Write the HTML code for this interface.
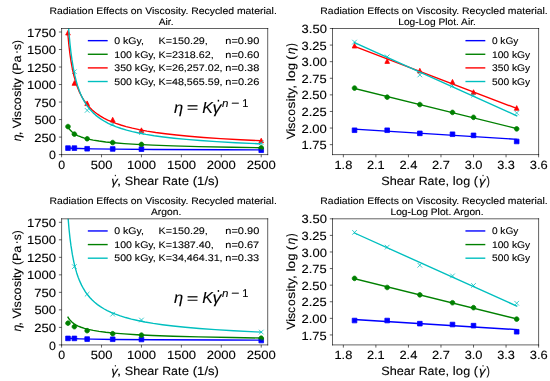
<!DOCTYPE html>
<html><head><meta charset="utf-8"><title>Radiation Effects on Viscosity</title>
<style>html,body{margin:0;padding:0;background:#fff;width:550px;height:381px;overflow:hidden}
svg{display:block;will-change:transform}
text{font-family:"Liberation Sans",sans-serif;fill:#000;stroke:#000;stroke-width:0.12px;text-rendering:geometricPrecision}</style>
</head><body>
<svg style="font-family: 'Liberation Sans', sans-serif" width="550" height="381" viewBox="0 0 550 381" version="1.1">
<defs>
<style type="text/css">*{stroke-linejoin: round; stroke-linecap: butt}</style>
</defs>
<g id="figure_1">
<g id="patch_1">
<path d="M 0 381 L 550 381 L 550 0 L 0 0 z
" style="fill: #ffffff"/>
</g>
<g id="axes_1">
<g id="patch_2">
<path d="M 61.6 154.6 L 267.7 154.6 L 267.7 28.5 L 61.6 28.5 z
" style="fill: #ffffff"/>
</g>
<g id="matplotlib.axis_1">
<g id="xtick_1">
<g id="line2d_1">
<defs>
<path id="maab8fc0e9d" d="M 0 0 L 0 2.70655 " style="stroke: #000000; stroke-width: 0.61864"/>
</defs>
<g>
<use href="#maab8fc0e9d" x="61.6" y="154.6" style="stroke: #000000; stroke-width: 0.61864"/>
</g>
</g>
<g id="text_1">
<text x="58.171" y="168.827" font-size="11.947" textLength="6.859" lengthAdjust="spacingAndGlyphs">0</text>
</g>
</g>
<g id="xtick_2">
<g id="line2d_2">
<g>
<use href="#maab8fc0e9d" x="101.526385" y="154.6" style="stroke: #000000; stroke-width: 0.61864"/>
</g>
</g>
<g id="text_2">
<text x="90.808" y="168.827" font-size="11.947" textLength="21.613" lengthAdjust="spacingAndGlyphs">500</text>
</g>
</g>
<g id="xtick_3">
<g id="line2d_3">
<g>
<use href="#maab8fc0e9d" x="141.45277" y="154.6" style="stroke: #000000; stroke-width: 0.61864"/>
</g>
</g>
<g id="text_3">
<text x="126.991" y="168.827" font-size="11.947" textLength="28.985" lengthAdjust="spacingAndGlyphs">1000</text>
</g>
</g>
<g id="xtick_4">
<g id="line2d_4">
<g>
<use href="#maab8fc0e9d" x="181.379155" y="154.6" style="stroke: #000000; stroke-width: 0.61864"/>
</g>
</g>
<g id="text_4">
<text x="166.918" y="168.827" font-size="11.947" textLength="28.985" lengthAdjust="spacingAndGlyphs">1500</text>
</g>
</g>
<g id="xtick_5">
<g id="line2d_5">
<g>
<use href="#maab8fc0e9d" x="221.30554" y="154.6" style="stroke: #000000; stroke-width: 0.61864"/>
</g>
</g>
<g id="text_5">
<text x="206.762" y="168.827" font-size="11.947" textLength="29.069" lengthAdjust="spacingAndGlyphs">2000</text>
</g>
</g>
<g id="xtick_6">
<g id="line2d_6">
<g>
<use href="#maab8fc0e9d" x="261.231926" y="154.6" style="stroke: #000000; stroke-width: 0.61864"/>
</g>
</g>
<g id="text_6">
<text x="246.688" y="168.827" font-size="11.947" textLength="29.069" lengthAdjust="spacingAndGlyphs">2500</text>
</g>
</g>
<g id="text_7">
<g transform="translate(110.306 185.14)"><text x="0.941" y="-0.581" font-size="11.947" font-style="italic" textLength="6.628" lengthAdjust="spacingAndGlyphs">γ</text><text x="6.346" y="-0.581" font-size="11.947" textLength="4.511" lengthAdjust="spacingAndGlyphs">,</text><rect x="4.525" y="-10.288" width="1.042" height="1.32"/><text x="10.931" y="-0.581" font-size="11.947" textLength="37.26" lengthAdjust="spacingAndGlyphs"> Shear</text><text x="48.512" y="-0.581" font-size="11.947" textLength="22.58" lengthAdjust="spacingAndGlyphs"> Rat</text><text x="71.577" y="-0.581" font-size="11.947" textLength="37.036" lengthAdjust="spacingAndGlyphs">e (1/s)</text>
</g>
</g>
</g>
<g id="matplotlib.axis_2">
<g id="ytick_1">
<g id="line2d_7">
<defs>
<path id="m0535aeec29" d="M 0 0 L -2.70655 0 " style="stroke: #000000; stroke-width: 0.61864"/>
</defs>
<g>
<use href="#m0535aeec29" x="61.6" y="154.6" style="stroke: #000000; stroke-width: 0.61864"/>
</g>
</g>
<g id="text_8">
<text x="49.067" y="159.207" font-size="11.947" textLength="6.859" lengthAdjust="spacingAndGlyphs">0</text>
</g>
</g>
<g id="ytick_2">
<g id="line2d_8">
<g>
<use href="#m0535aeec29" x="61.6" y="137.086111" style="stroke: #000000; stroke-width: 0.61864"/>
</g>
</g>
<g id="text_9">
<text x="34.265" y="141.693" font-size="11.947" textLength="21.75" lengthAdjust="spacingAndGlyphs">250</text>
</g>
</g>
<g id="ytick_3">
<g id="line2d_9">
<g>
<use href="#m0535aeec29" x="61.6" y="119.572222" style="stroke: #000000; stroke-width: 0.61864"/>
</g>
</g>
<g id="text_10">
<text x="34.398" y="124.179" font-size="11.947" textLength="21.613" lengthAdjust="spacingAndGlyphs">500</text>
</g>
</g>
<g id="ytick_4">
<g id="line2d_10">
<g>
<use href="#m0535aeec29" x="61.6" y="102.058333" style="stroke: #000000; stroke-width: 0.61864"/>
</g>
</g>
<g id="text_11">
<text x="34.324" y="106.665" font-size="11.947" textLength="21.689" lengthAdjust="spacingAndGlyphs">750</text>
</g>
</g>
<g id="ytick_5">
<g id="line2d_11">
<g>
<use href="#m0535aeec29" x="61.6" y="84.544444" style="stroke: #000000; stroke-width: 0.61864"/>
</g>
</g>
<g id="text_12">
<text x="26.965" y="89.151" font-size="11.947" textLength="28.985" lengthAdjust="spacingAndGlyphs">1000</text>
</g>
</g>
<g id="ytick_6">
<g id="line2d_12">
<g>
<use href="#m0535aeec29" x="61.6" y="67.030556" style="stroke: #000000; stroke-width: 0.61864"/>
</g>
</g>
<g id="text_13">
<text x="26.965" y="71.637" font-size="11.947" textLength="28.985" lengthAdjust="spacingAndGlyphs">1250</text>
</g>
</g>
<g id="ytick_7">
<g id="line2d_13">
<g>
<use href="#m0535aeec29" x="61.6" y="49.516667" style="stroke: #000000; stroke-width: 0.61864"/>
</g>
</g>
<g id="text_14">
<text x="26.965" y="54.124" font-size="11.947" textLength="28.985" lengthAdjust="spacingAndGlyphs">1500</text>
</g>
</g>
<g id="ytick_8">
<g id="line2d_14">
<g>
<use href="#m0535aeec29" x="61.6" y="32.002778" style="stroke: #000000; stroke-width: 0.61864"/>
</g>
</g>
<g id="text_15">
<text x="26.965" y="36.61" font-size="11.947" textLength="28.985" lengthAdjust="spacingAndGlyphs">1750</text>
</g>
</g>
<g id="text_16">
<g transform="translate(21.537 142.478) rotate(-90)"><text x="1.252" y="-0.875" font-size="11.947" font-style="italic" textLength="6.895" lengthAdjust="spacingAndGlyphs">η</text><text x="7.156" y="-0.875" font-size="11.947" textLength="24.399" lengthAdjust="spacingAndGlyphs">, Vis</text><text x="32.07" y="-0.875" font-size="11.947" textLength="13.261" lengthAdjust="spacingAndGlyphs">co</text><text x="45.769" y="-0.875" font-size="11.947" textLength="41.131" lengthAdjust="spacingAndGlyphs">sity (Pa</text><rect x="89.83" y="-5.221" width="1.195" height="1.439"/><text x="92.561" y="-0.875" font-size="11.947" textLength="10.055" lengthAdjust="spacingAndGlyphs">s)</text>
</g>
</g>
</g>
<g id="line2d_15">
<defs>
<path id="m254cbf3be5" d="M -2.3199 2.3199 L 2.3199 2.3199 L 2.3199 -2.3199 L -2.3199 -2.3199 z
" style="stroke: #0000ff; stroke-width: 0.7733; stroke-linejoin: miter"/>
</defs>
<g clip-path="url(#p5743c4f29c)">
<use href="#m254cbf3be5" x="67.988222" y="148.10585" style="fill: #0000ff; stroke: #0000ff; stroke-width: 0.7733; stroke-linejoin: miter"/>
<use href="#m254cbf3be5" x="74.376443" y="148.10585" style="fill: #0000ff; stroke: #0000ff; stroke-width: 0.7733; stroke-linejoin: miter"/>
<use href="#m254cbf3be5" x="87.152886" y="148.771378" style="fill: #0000ff; stroke: #0000ff; stroke-width: 0.7733; stroke-linejoin: miter"/>
<use href="#m254cbf3be5" x="112.705773" y="148.946517" style="fill: #0000ff; stroke: #0000ff; stroke-width: 0.7733; stroke-linejoin: miter"/>
<use href="#m254cbf3be5" x="141.45277" y="149.163689" style="fill: #0000ff; stroke: #0000ff; stroke-width: 0.7733; stroke-linejoin: miter"/>
<use href="#m254cbf3be5" x="261.231926" y="150.200511" style="fill: #0000ff; stroke: #0000ff; stroke-width: 0.7733; stroke-linejoin: miter"/>
</g>
</g>
<g id="line2d_16">
<defs>
<path id="m1ce8daf541" d="M 0 2.3199 C 0.615245 2.3199 1.205373 2.075461 1.640417 1.640417 C 2.075461 1.205373 2.3199 0.615245 2.3199 0 C 2.3199 -0.615245 2.075461 -1.205373 1.640417 -1.640417 C 1.205373 -2.075461 0.615245 -2.3199 0 -2.3199 C -0.615245 -2.3199 -1.205373 -2.075461 -1.640417 -1.640417 C -2.075461 -1.205373 -2.3199 -0.615245 -2.3199 0 C -2.3199 0.615245 -2.075461 1.205373 -1.640417 1.640417 C -1.205373 2.075461 -0.615245 2.3199 0 2.3199 z
" style="stroke: #008000; stroke-width: 0.7733"/>
</defs>
<g clip-path="url(#p5743c4f29c)">
<use href="#m1ce8daf541" x="67.988222" y="126.577778" style="fill: #008000; stroke: #008000; stroke-width: 0.7733"/>
<use href="#m1ce8daf541" x="74.376443" y="134.143778" style="fill: #008000; stroke: #008000; stroke-width: 0.7733"/>
<use href="#m1ce8daf541" x="87.152886" y="138.767444" style="fill: #008000; stroke: #008000; stroke-width: 0.7733"/>
<use href="#m1ce8daf541" x="112.705773" y="142.550444" style="fill: #008000; stroke: #008000; stroke-width: 0.7733"/>
<use href="#m1ce8daf541" x="141.45277" y="144.441944" style="fill: #008000; stroke: #008000; stroke-width: 0.7733"/>
<use href="#m1ce8daf541" x="261.231926" y="147.783594" style="fill: #008000; stroke: #008000; stroke-width: 0.7733"/>
</g>
</g>
<g id="line2d_17">
<defs>
<path id="m23a7e8cab1" d="M 0 -2.3199 L -2.3199 2.3199 L 2.3199 2.3199 z
" style="stroke: #ff0000; stroke-width: 0.7733; stroke-linejoin: miter"/>
</defs>
<g clip-path="url(#p5743c4f29c)">
<use href="#m23a7e8cab1" x="67.988222" y="32.703333" style="fill: #ff0000; stroke: #ff0000; stroke-width: 0.7733; stroke-linejoin: miter"/>
<use href="#m23a7e8cab1" x="74.376443" y="83.003222" style="fill: #ff0000; stroke: #ff0000; stroke-width: 0.7733; stroke-linejoin: miter"/>
<use href="#m23a7e8cab1" x="87.152886" y="103.249278" style="fill: #ff0000; stroke: #ff0000; stroke-width: 0.7733; stroke-linejoin: miter"/>
<use href="#m23a7e8cab1" x="112.705773" y="119.642278" style="fill: #ff0000; stroke: #ff0000; stroke-width: 0.7733; stroke-linejoin: miter"/>
<use href="#m23a7e8cab1" x="141.45277" y="130.150611" style="fill: #ff0000; stroke: #ff0000; stroke-width: 0.7733; stroke-linejoin: miter"/>
<use href="#m23a7e8cab1" x="261.231926" y="140.518833" style="fill: #ff0000; stroke: #ff0000; stroke-width: 0.7733; stroke-linejoin: miter"/>
</g>
</g>
<g id="line2d_18">
<defs>
<path id="m0160b652dd" d="M -2.3199 2.3199 L 2.3199 -2.3199 M -2.3199 -2.3199 L 2.3199 2.3199 " style="stroke: #00bfbf; stroke-width: 0.7733"/>
</defs>
<g clip-path="url(#p5743c4f29c)">
<use href="#m0160b652dd" x="67.988222" y="16.450444" style="fill: #00bfbf; stroke: #00bfbf; stroke-width: 0.7733"/>
<use href="#m0160b652dd" x="74.376443" y="71.724278" style="fill: #00bfbf; stroke: #00bfbf; stroke-width: 0.7733"/>
<use href="#m0160b652dd" x="87.152886" y="110.394944" style="fill: #00bfbf; stroke: #00bfbf; stroke-width: 0.7733"/>
<use href="#m0160b652dd" x="112.705773" y="124.055778" style="fill: #00bfbf; stroke: #00bfbf; stroke-width: 0.7733"/>
<use href="#m0160b652dd" x="141.45277" y="132.672611" style="fill: #00bfbf; stroke: #00bfbf; stroke-width: 0.7733"/>
<use href="#m0160b652dd" x="261.231926" y="142.760611" style="fill: #00bfbf; stroke: #00bfbf; stroke-width: 0.7733"/>
</g>
</g>
<g id="line2d_19">
<path d="M 67.988222 147.866242 L 72.347102 148.214212 L 79.611903 148.541862 L 92.204225 148.860731 L 114.482947 149.172147 L 153.712872 149.470848 L 224.423601 149.760382 L 261.231926 149.859952 L 261.231926 149.859952 " clip-path="url(#p5743c4f29c)" style="fill: none; stroke: #0000ff; stroke-width: 1.39194; stroke-linecap: square"/>
</g>
<g id="line2d_20">
<path d="M 67.988222 126.941807 L 68.956862 128.475168 L 70.409822 130.309828 L 71.862782 131.762624 L 73.800062 133.303558 L 75.737343 134.534558 L 78.158943 135.776164 L 81.064863 136.96645 L 84.455104 138.073987 L 88.329664 139.087138 L 93.172865 140.096445 L 98.984705 141.053442 L 105.765186 141.93559 L 113.998627 142.780691 L 124.169349 143.598112 L 136.76167 144.383674 L 152.744232 145.14924 L 173.085675 145.887941 L 198.754638 146.58757 L 232.172722 147.263214 L 261.231926 147.714993 L 261.231926 147.714993 " clip-path="url(#p5743c4f29c)" style="fill: none; stroke: #008000; stroke-width: 1.39194; stroke-linecap: square"/>
</g>
<g id="line2d_21">
<path d="M 67.988222 35.679487 L 68.956862 45.72294 L 69.925502 53.822694 L 70.894142 60.52192 L 72.347102 68.686354 L 73.800062 75.232449 L 75.253023 80.622227 L 76.705983 85.153375 L 78.158943 89.027177 L 79.611903 92.385086 L 81.549183 96.233177 L 83.486464 99.518024 L 85.423744 102.361824 L 87.361024 104.852953 L 89.782624 107.569363 L 92.204225 109.931034 L 94.625825 112.007247 L 97.531745 114.194051 L 100.437666 116.11105 L 103.827906 118.072534 L 107.702467 120.022654 L 111.577027 121.723336 L 115.935908 123.397461 L 120.779108 125.018922 L 126.106629 126.570423 L 132.40279 128.155353 L 139.18327 129.624499 L 146.932391 131.067229 L 155.650153 132.455312 L 165.336554 133.771314 L 176.475915 135.057679 L 189.068237 136.287695 L 203.597838 137.482388 L 220.549041 138.647342 L 240.406163 139.778908 L 261.231926 140.765116 L 261.231926 140.765116 " clip-path="url(#p5743c4f29c)" style="fill: none; stroke: #ff0000; stroke-width: 1.39194; stroke-linecap: square"/>
</g>
<g id="line2d_22">
<path d="M 67.988222 19.362535 L 68.956862 32.709199 L 69.925502 43.315518 L 70.894142 51.974654 L 71.862782 59.196225 L 73.315742 68.054976 L 74.768702 75.190393 L 76.221663 81.077703 L 77.674623 86.029541 L 79.127583 90.260562 L 80.580543 93.92336 L 82.517823 98.111955 L 84.455104 101.676928 L 86.392384 104.753069 L 88.329664 107.438299 L 90.751264 110.354528 L 93.172865 112.878339 L 95.594465 115.086979 L 98.500385 117.401799 L 101.406306 119.420302 L 104.796546 121.474213 L 108.186787 123.266039 L 112.061347 125.055341 L 116.420228 126.803109 L 121.263428 128.482269 L 126.590949 130.075681 L 132.40279 131.573941 L 138.69895 132.973362 L 145.963751 134.360212 L 154.197192 135.700919 L 163.399273 136.973885 L 174.054315 138.219081 L 186.162316 139.406701 L 200.207598 140.555657 L 216.67448 141.669391 L 235.562962 142.718248 L 257.841685 143.726676 L 261.231926 143.86289 L 261.231926 143.86289 " clip-path="url(#p5743c4f29c)" style="fill: none; stroke: #00bfbf; stroke-width: 1.39194; stroke-linecap: square"/>
</g>
<g id="patch_3">
<path d="M 61.6 154.6 L 61.6 28.5 " style="fill: none; stroke: #000000; stroke-width: 0.61864; stroke-linejoin: miter; stroke-linecap: square"/>
</g>
<g id="patch_4">
<path d="M 267.7 154.6 L 267.7 28.5 " style="fill: none; stroke: #000000; stroke-width: 0.61864; stroke-linejoin: miter; stroke-linecap: square"/>
</g>
<g id="patch_5">
<path d="M 61.6 154.6 L 267.7 154.6 " style="fill: none; stroke: #000000; stroke-width: 0.61864; stroke-linejoin: miter; stroke-linecap: square"/>
</g>
<g id="patch_6">
<path d="M 61.6 28.5 L 267.7 28.5 " style="fill: none; stroke: #000000; stroke-width: 0.61864; stroke-linejoin: miter; stroke-linecap: square"/>
</g>
<g id="text_17">
<g transform="translate(173.394 113.467)"><text x="0.602" y="-0.602" font-size="15.93" font-style="italic" textLength="9.193" lengthAdjust="spacingAndGlyphs">η</text><text x="13.471" y="-0.602" font-size="15.93" transform="matrix(1 0 0 0.85 0 -0.473)" textLength="11.639" lengthAdjust="spacingAndGlyphs">=</text><text x="28.756" y="-0.602" font-size="15.93" font-style="italic" textLength="10.701" lengthAdjust="spacingAndGlyphs">K</text><text x="39.203" y="-0.602" font-size="15.93" font-style="italic" textLength="8.838" lengthAdjust="spacingAndGlyphs">γ</text><text x="48.536" y="-6.344" font-size="11.151" font-style="italic" textLength="6.447" lengthAdjust="spacingAndGlyphs">n</text><rect x="44.325" y="-13.682" width="1.39" height="1.76"/><text x="57.761" y="-6.344" font-size="11.151" textLength="8.147" lengthAdjust="spacingAndGlyphs">−</text><text x="68.896" y="-6.344" font-size="11.151" textLength="6.091" lengthAdjust="spacingAndGlyphs">1</text>
</g>
</g>
<g id="text_18">
<text x="49.451" y="14.169" font-size="9.558" textLength="227.395" lengthAdjust="spacingAndGlyphs">Radiation Effects on Viscosity. Recycled material.</text>
<text x="158.746" y="24.56" font-size="9.558" textLength="14.754" lengthAdjust="spacingAndGlyphs">Air.</text>
</g>
<g id="legend_1">
<g id="line2d_23">
<path d="M 88.517 40.654826 L 97.755 40.654826 L 106.993 40.654826 " style="fill: none; stroke: #0000ff; stroke-width: 1.39194; stroke-linecap: square"/>
</g>
<g id="text_19">
<text x="114.265" y="43.903" font-size="9.558" textLength="29.671" lengthAdjust="spacingAndGlyphs">0 kGy,</text><text x="158.562" y="43.903" font-size="9.558" textLength="49.264" lengthAdjust="spacingAndGlyphs">K=150.29,</text><text x="225.291" y="43.903" font-size="9.558" textLength="34.024" lengthAdjust="spacingAndGlyphs">n=0.90</text>
</g>
<g id="line2d_24">
<path d="M 88.517 54.275539 L 97.755 54.275539 L 106.993 54.275539 " style="fill: none; stroke: #008000; stroke-width: 1.39194; stroke-linecap: square"/>
</g>
<g id="text_20">
<text x="114.312" y="57.523" font-size="9.558" textLength="41.482" lengthAdjust="spacingAndGlyphs">100 kGy,</text><text x="158.571" y="57.523" font-size="9.558" textLength="55.167" lengthAdjust="spacingAndGlyphs">K=2318.62,</text><text x="225.304" y="57.523" font-size="9.558" textLength="34.024" lengthAdjust="spacingAndGlyphs">n=0.60</text>
</g>
<g id="line2d_25">
<path d="M 88.517 67.896252 L 97.755 67.896252 L 106.993 67.896252 " style="fill: none; stroke: #ff0000; stroke-width: 1.39194; stroke-linecap: square"/>
</g>
<g id="text_21">
<text x="114.357" y="71.144" font-size="9.558" textLength="41.435" lengthAdjust="spacingAndGlyphs">350 kGy,</text><text x="158.573" y="71.144" font-size="9.558" textLength="64.015" lengthAdjust="spacingAndGlyphs">K=26,257.02,</text><text x="225.308" y="71.144" font-size="9.558" textLength="34.024" lengthAdjust="spacingAndGlyphs">n=0.38</text>
</g>
<g id="line2d_26">
<path d="M 88.517 81.516965 L 97.755 81.516965 L 106.993 81.516965 " style="fill: none; stroke: #00bfbf; stroke-width: 1.39194; stroke-linecap: square"/>
</g>
<g id="text_22">
<text x="114.357" y="84.765" font-size="9.558" textLength="41.435" lengthAdjust="spacingAndGlyphs">500 kGy,</text><text x="158.573" y="84.765" font-size="9.558" textLength="64.015" lengthAdjust="spacingAndGlyphs">K=48,565.59,</text><text x="225.306" y="84.765" font-size="9.558" textLength="34.129" lengthAdjust="spacingAndGlyphs">n=0.26</text>
</g>
</g>
</g>
<g id="axes_2">
<g id="patch_7">
<path d="M 332.5 154.6 L 538.6 154.6 L 538.6 28.5 L 332.5 28.5 z
" style="fill: #ffffff"/>
</g>
<g id="matplotlib.axis_3">
<g id="xtick_7">
<g id="line2d_27">
<g>
<use href="#maab8fc0e9d" x="343.347368" y="154.6" style="stroke: #000000; stroke-width: 0.61864"/>
</g>
</g>
<g id="text_23">
<text x="334.434" y="168.827" font-size="11.947" textLength="17.896" lengthAdjust="spacingAndGlyphs">1.8</text>
</g>
</g>
<g id="xtick_8">
<g id="line2d_28">
<g>
<use href="#maab8fc0e9d" x="375.889474" y="154.6" style="stroke: #000000; stroke-width: 0.61864"/>
</g>
</g>
<g id="text_24">
<text x="366.895" y="168.827" font-size="11.947" textLength="17.813" lengthAdjust="spacingAndGlyphs">2.1</text>
</g>
</g>
<g id="xtick_9">
<g id="line2d_29">
<g>
<use href="#maab8fc0e9d" x="408.431579" y="154.6" style="stroke: #000000; stroke-width: 0.61864"/>
</g>
</g>
<g id="text_25">
<text x="399.431" y="168.827" font-size="11.947" textLength="17.972" lengthAdjust="spacingAndGlyphs">2.4</text>
</g>
</g>
<g id="xtick_10">
<g id="line2d_30">
<g>
<use href="#maab8fc0e9d" x="440.973684" y="154.6" style="stroke: #000000; stroke-width: 0.61864"/>
</g>
</g>
<g id="text_26">
<text x="431.977" y="168.827" font-size="11.947" textLength="17.875" lengthAdjust="spacingAndGlyphs">2.7</text>
</g>
</g>
<g id="xtick_11">
<g id="line2d_31">
<g>
<use href="#maab8fc0e9d" x="473.515789" y="154.6" style="stroke: #000000; stroke-width: 0.61864"/>
</g>
</g>
<g id="text_27">
<text x="464.648" y="168.827" font-size="11.947" textLength="17.848" lengthAdjust="spacingAndGlyphs">3.0</text>
</g>
</g>
<g id="xtick_12">
<g id="line2d_32">
<g>
<use href="#maab8fc0e9d" x="506.057895" y="154.6" style="stroke: #000000; stroke-width: 0.61864"/>
</g>
</g>
<g id="text_28">
<text x="497.194" y="168.827" font-size="11.947" textLength="17.731" lengthAdjust="spacingAndGlyphs">3.3</text>
</g>
</g>
<g id="xtick_13">
<g id="line2d_33">
<g>
<use href="#maab8fc0e9d" x="538.6" y="154.6" style="stroke: #000000; stroke-width: 0.61864"/>
</g>
</g>
<g id="text_29">
<text x="529.729" y="168.827" font-size="11.947" textLength="17.979" lengthAdjust="spacingAndGlyphs">3.6</text>
</g>
</g>
<g id="text_30">
<g transform="translate(381.032 185.14)"><text x="0.185" y="-0.581" font-size="11.947" textLength="33.747" lengthAdjust="spacingAndGlyphs">Shear</text><text x="34.242" y="-0.581" font-size="11.947" textLength="22.58" lengthAdjust="spacingAndGlyphs"> Rat</text><text x="57.307" y="-0.581" font-size="11.947" textLength="24.658" lengthAdjust="spacingAndGlyphs">e, lo</text><text x="82.278" y="-0.581" font-size="11.947" textLength="14.625" lengthAdjust="spacingAndGlyphs">g (</text><text x="97.892" y="-0.581" font-size="11.947" font-style="italic" textLength="6.628" lengthAdjust="spacingAndGlyphs">γ</text><text x="105.458" y="-0.581" font-size="11.947" textLength="3.343" lengthAdjust="spacingAndGlyphs">)</text><rect x="101.476" y="-10.288" width="1.042" height="1.32"/>
</g>
</g>
</g>
<g id="matplotlib.axis_4">
<g id="ytick_9">
<g id="line2d_34">
<g>
<use href="#m0535aeec29" x="332.5" y="144.644737" style="stroke: #000000; stroke-width: 0.61864"/>
</g>
</g>
<g id="text_31">
<text x="301.57" y="149.252" font-size="11.947" textLength="25.044" lengthAdjust="spacingAndGlyphs">1.75</text>
</g>
</g>
<g id="ytick_10">
<g id="line2d_35">
<g>
<use href="#m0535aeec29" x="332.5" y="128.052632" style="stroke: #000000; stroke-width: 0.61864"/>
</g>
</g>
<g id="text_32">
<text x="301.477" y="132.66" font-size="11.947" textLength="25.376" lengthAdjust="spacingAndGlyphs">2.00</text>
</g>
</g>
<g id="ytick_11">
<g id="line2d_36">
<g>
<use href="#m0535aeec29" x="332.5" y="111.460526" style="stroke: #000000; stroke-width: 0.61864"/>
</g>
</g>
<g id="text_33">
<text x="301.483" y="116.067" font-size="11.947" textLength="25.132" lengthAdjust="spacingAndGlyphs">2.25</text>
</g>
</g>
<g id="ytick_12">
<g id="line2d_37">
<g>
<use href="#m0535aeec29" x="332.5" y="94.868421" style="stroke: #000000; stroke-width: 0.61864"/>
</g>
</g>
<g id="text_34">
<text x="301.477" y="99.475" font-size="11.947" textLength="25.376" lengthAdjust="spacingAndGlyphs">2.50</text>
</g>
</g>
<g id="ytick_13">
<g id="line2d_38">
<g>
<use href="#m0535aeec29" x="332.5" y="78.276316" style="stroke: #000000; stroke-width: 0.61864"/>
</g>
</g>
<g id="text_35">
<text x="301.483" y="82.883" font-size="11.947" textLength="25.132" lengthAdjust="spacingAndGlyphs">2.75</text>
</g>
</g>
<g id="ytick_14">
<g id="line2d_39">
<g>
<use href="#m0535aeec29" x="332.5" y="61.684211" style="stroke: #000000; stroke-width: 0.61864"/>
</g>
</g>
<g id="text_36">
<text x="301.61" y="66.291" font-size="11.947" textLength="25.24" lengthAdjust="spacingAndGlyphs">3.00</text>
</g>
</g>
<g id="ytick_15">
<g id="line2d_40">
<g>
<use href="#m0535aeec29" x="332.5" y="45.092105" style="stroke: #000000; stroke-width: 0.61864"/>
</g>
</g>
<g id="text_37">
<text x="301.615" y="49.699" font-size="11.947" textLength="24.997" lengthAdjust="spacingAndGlyphs">3.25</text>
</g>
</g>
<g id="ytick_16">
<g id="line2d_41">
<g>
<use href="#m0535aeec29" x="332.5" y="28.5" style="stroke: #000000; stroke-width: 0.61864"/>
</g>
</g>
<g id="text_38">
<text x="301.61" y="33.107" font-size="11.947" textLength="25.24" lengthAdjust="spacingAndGlyphs">3.50</text>
</g>
</g>
<g id="text_39">
<g transform="translate(296.131 139.404) rotate(-90)"><text x="0.055" y="-0.875" font-size="11.947" textLength="22.884" lengthAdjust="spacingAndGlyphs">Visc</text><text x="23.78" y="-0.875" font-size="11.947" textLength="6.791" lengthAdjust="spacingAndGlyphs">o</text><text x="30.967" y="-0.875" font-size="11.947" textLength="38.022" lengthAdjust="spacingAndGlyphs">sity, lo</text><text x="69.336" y="-0.875" font-size="11.947" textLength="14.625" lengthAdjust="spacingAndGlyphs">g (</text><text x="85.261" y="-0.875" font-size="11.947" font-style="italic" textLength="6.895" lengthAdjust="spacingAndGlyphs">η</text><text x="93.005" y="-0.875" font-size="11.947" textLength="3.343" lengthAdjust="spacingAndGlyphs">)</text>
</g>
</g>
</g>
<g id="line2d_42">
<g clip-path="url(#pca7f2a2bee)">
<use href="#m254cbf3be5" x="354.529919" y="130.237498" style="fill: #0000ff; stroke: #0000ff; stroke-width: 0.7733; stroke-linejoin: miter"/>
<use href="#m254cbf3be5" x="387.183752" y="130.237498" style="fill: #0000ff; stroke: #0000ff; stroke-width: 0.7733; stroke-linejoin: miter"/>
<use href="#m254cbf3be5" x="419.837584" y="133.35392" style="fill: #0000ff; stroke: #0000ff; stroke-width: 0.7733; stroke-linejoin: miter"/>
<use href="#m254cbf3be5" x="452.491417" y="134.233288" style="fill: #0000ff; stroke: #0000ff; stroke-width: 0.7733; stroke-linejoin: miter"/>
<use href="#m254cbf3be5" x="473.515789" y="135.362335" style="fill: #0000ff; stroke: #0000ff; stroke-width: 0.7733; stroke-linejoin: miter"/>
<use href="#m254cbf3be5" x="516.681808" y="141.461731" style="fill: #0000ff; stroke: #0000ff; stroke-width: 0.7733; stroke-linejoin: miter"/>
</g>
</g>
<g id="line2d_43">
<g clip-path="url(#pca7f2a2bee)">
<use href="#m1ce8daf541" x="354.529919" y="88.094861" style="fill: #008000; stroke: #008000; stroke-width: 0.7733"/>
<use href="#m1ce8daf541" x="387.183752" y="97.165907" style="fill: #008000; stroke: #008000; stroke-width: 0.7733"/>
<use href="#m1ce8daf541" x="419.837584" y="104.551014" style="fill: #008000; stroke: #008000; stroke-width: 0.7733"/>
<use href="#m1ce8daf541" x="452.491417" y="112.42098" style="fill: #008000; stroke: #008000; stroke-width: 0.7733"/>
<use href="#m1ce8daf541" x="473.515789" y="117.342892" style="fill: #008000; stroke: #008000; stroke-width: 0.7733"/>
<use href="#m1ce8daf541" x="516.681808" y="128.841564" style="fill: #008000; stroke: #008000; stroke-width: 0.7733"/>
</g>
</g>
<g id="line2d_44">
<g clip-path="url(#pca7f2a2bee)">
<use href="#m23a7e8cab1" x="354.529919" y="45.719337" style="fill: #ff0000; stroke: #ff0000; stroke-width: 0.7733; stroke-linejoin: miter"/>
<use href="#m23a7e8cab1" x="387.183752" y="61.056969" style="fill: #ff0000; stroke: #ff0000; stroke-width: 0.7733; stroke-linejoin: miter"/>
<use href="#m23a7e8cab1" x="419.837584" y="70.637047" style="fill: #ff0000; stroke: #ff0000; stroke-width: 0.7733; stroke-linejoin: miter"/>
<use href="#m23a7e8cab1" x="452.491417" y="81.720801" style="fill: #ff0000; stroke: #ff0000; stroke-width: 0.7733; stroke-linejoin: miter"/>
<use href="#m23a7e8cab1" x="473.515789" y="92.026165" style="fill: #ff0000; stroke: #ff0000; stroke-width: 0.7733; stroke-linejoin: miter"/>
<use href="#m23a7e8cab1" x="516.681808" y="107.929988" style="fill: #ff0000; stroke: #ff0000; stroke-width: 0.7733; stroke-linejoin: miter"/>
</g>
</g>
<g id="line2d_45">
<g clip-path="url(#pca7f2a2bee)">
<use href="#m0160b652dd" x="354.529919" y="42.111705" style="fill: #00bfbf; stroke: #00bfbf; stroke-width: 0.7733"/>
<use href="#m0160b652dd" x="387.183752" y="56.840328" style="fill: #00bfbf; stroke: #00bfbf; stroke-width: 0.7733"/>
<use href="#m0160b652dd" x="419.837584" y="74.955946" style="fill: #00bfbf; stroke: #00bfbf; stroke-width: 0.7733"/>
<use href="#m0160b652dd" x="452.491417" y="85.610923" style="fill: #00bfbf; stroke: #00bfbf; stroke-width: 0.7733"/>
<use href="#m0160b652dd" x="473.515789" y="95.164136" style="fill: #00bfbf; stroke: #00bfbf; stroke-width: 0.7733"/>
<use href="#m0160b652dd" x="516.681808" y="112.928151" style="fill: #00bfbf; stroke: #00bfbf; stroke-width: 0.7733"/>
</g>
</g>
<g id="line2d_46">
<path d="M 354.529919 129.193179 L 516.681808 139.312684 " clip-path="url(#pca7f2a2bee)" style="fill: none; stroke: #0000ff; stroke-width: 1.39194; stroke-linecap: square"/>
</g>
<g id="line2d_47">
<path d="M 354.529919 88.471751 L 516.681808 128.552929 " clip-path="url(#pca7f2a2bee)" style="fill: none; stroke: #008000; stroke-width: 1.39194; stroke-linecap: square"/>
</g>
<g id="line2d_48">
<path d="M 354.529919 46.431805 L 516.681808 108.438578 " clip-path="url(#pca7f2a2bee)" style="fill: none; stroke: #ff0000; stroke-width: 1.39194; stroke-linecap: square"/>
</g>
<g id="line2d_49">
<path d="M 354.529919 42.725776 L 516.681808 115.744952 " clip-path="url(#pca7f2a2bee)" style="fill: none; stroke: #00bfbf; stroke-width: 1.39194; stroke-linecap: square"/>
</g>
<g id="patch_8">
<path d="M 332.5 154.6 L 332.5 28.5 " style="fill: none; stroke: #000000; stroke-width: 0.61864; stroke-linejoin: miter; stroke-linecap: square"/>
</g>
<g id="patch_9">
<path d="M 538.6 154.6 L 538.6 28.5 " style="fill: none; stroke: #000000; stroke-width: 0.61864; stroke-linejoin: miter; stroke-linecap: square"/>
</g>
<g id="patch_10">
<path d="M 332.5 154.6 L 538.6 154.6 " style="fill: none; stroke: #000000; stroke-width: 0.61864; stroke-linejoin: miter; stroke-linecap: square"/>
</g>
<g id="patch_11">
<path d="M 332.5 28.5 L 538.6 28.5 " style="fill: none; stroke: #000000; stroke-width: 0.61864; stroke-linejoin: miter; stroke-linecap: square"/>
</g>
<g id="text_40">
<text x="320.351" y="14.169" font-size="9.558" textLength="227.395" lengthAdjust="spacingAndGlyphs">Radiation Effects on Viscosity. Recycled material.</text>
<text x="398.298" y="24.56" font-size="9.558" textLength="77.513" lengthAdjust="spacingAndGlyphs">Log-Log Plot. Air.</text>
</g>
<g id="legend_2">
<g id="line2d_50">
<path d="M 466.139 40.654826 L 475.377 40.654826 L 484.615 40.654826 " style="fill: none; stroke: #0000ff; stroke-width: 1.39194; stroke-linecap: square"/>
</g>
<g id="text_41">
<text x="491.902" y="43.903" font-size="9.558" textLength="26.504" lengthAdjust="spacingAndGlyphs">0 kGy</text>
</g>
<g id="line2d_51">
<path d="M 466.139 54.275539 L 475.377 54.275539 L 484.615 54.275539 " style="fill: none; stroke: #008000; stroke-width: 1.39194; stroke-linecap: square"/>
</g>
<g id="text_42">
<text x="491.956" y="57.523" font-size="9.558" textLength="38.209" lengthAdjust="spacingAndGlyphs">100 kGy</text>
</g>
<g id="line2d_52">
<path d="M 466.139 67.896252 L 475.377 67.896252 L 484.615 67.896252 " style="fill: none; stroke: #ff0000; stroke-width: 1.39194; stroke-linecap: square"/>
</g>
<g id="text_43">
<text x="491.991" y="71.144" font-size="9.558" textLength="38.174" lengthAdjust="spacingAndGlyphs">350 kGy</text>
</g>
<g id="line2d_53">
<path d="M 466.139 81.516965 L 475.377 81.516965 L 484.615 81.516965 " style="fill: none; stroke: #00bfbf; stroke-width: 1.39194; stroke-linecap: square"/>
</g>
<g id="text_44">
<text x="491.991" y="84.765" font-size="9.558" textLength="38.174" lengthAdjust="spacingAndGlyphs">500 kGy</text>
</g>
</g>
</g>
<g id="axes_3">
<g id="patch_12">
<path d="M 61.6 344.9 L 267.7 344.9 L 267.7 218.8 L 61.6 218.8 z
" style="fill: #ffffff"/>
</g>
<g id="matplotlib.axis_5">
<g id="xtick_14">
<g id="line2d_54">
<g>
<use href="#maab8fc0e9d" x="61.6" y="344.9" style="stroke: #000000; stroke-width: 0.61864"/>
</g>
</g>
<g id="text_45">
<text x="58.171" y="359.127" font-size="11.947" textLength="6.859" lengthAdjust="spacingAndGlyphs">0</text>
</g>
</g>
<g id="xtick_15">
<g id="line2d_55">
<g>
<use href="#maab8fc0e9d" x="101.526385" y="344.9" style="stroke: #000000; stroke-width: 0.61864"/>
</g>
</g>
<g id="text_46">
<text x="90.808" y="359.127" font-size="11.947" textLength="21.613" lengthAdjust="spacingAndGlyphs">500</text>
</g>
</g>
<g id="xtick_16">
<g id="line2d_56">
<g>
<use href="#maab8fc0e9d" x="141.45277" y="344.9" style="stroke: #000000; stroke-width: 0.61864"/>
</g>
</g>
<g id="text_47">
<text x="126.991" y="359.127" font-size="11.947" textLength="28.985" lengthAdjust="spacingAndGlyphs">1000</text>
</g>
</g>
<g id="xtick_17">
<g id="line2d_57">
<g>
<use href="#maab8fc0e9d" x="181.379155" y="344.9" style="stroke: #000000; stroke-width: 0.61864"/>
</g>
</g>
<g id="text_48">
<text x="166.918" y="359.127" font-size="11.947" textLength="28.985" lengthAdjust="spacingAndGlyphs">1500</text>
</g>
</g>
<g id="xtick_18">
<g id="line2d_58">
<g>
<use href="#maab8fc0e9d" x="221.30554" y="344.9" style="stroke: #000000; stroke-width: 0.61864"/>
</g>
</g>
<g id="text_49">
<text x="206.762" y="359.127" font-size="11.947" textLength="29.069" lengthAdjust="spacingAndGlyphs">2000</text>
</g>
</g>
<g id="xtick_19">
<g id="line2d_59">
<g>
<use href="#maab8fc0e9d" x="261.231926" y="344.9" style="stroke: #000000; stroke-width: 0.61864"/>
</g>
</g>
<g id="text_50">
<text x="246.688" y="359.127" font-size="11.947" textLength="29.069" lengthAdjust="spacingAndGlyphs">2500</text>
</g>
</g>
<g id="text_51">
<g transform="translate(110.306 375.44)"><text x="0.941" y="-0.581" font-size="11.947" font-style="italic" textLength="6.628" lengthAdjust="spacingAndGlyphs">γ</text><text x="6.346" y="-0.581" font-size="11.947" textLength="4.511" lengthAdjust="spacingAndGlyphs">,</text><rect x="4.525" y="-10.288" width="1.042" height="1.32"/><text x="10.931" y="-0.581" font-size="11.947" textLength="37.26" lengthAdjust="spacingAndGlyphs"> Shear</text><text x="48.512" y="-0.581" font-size="11.947" textLength="22.58" lengthAdjust="spacingAndGlyphs"> Rat</text><text x="71.577" y="-0.581" font-size="11.947" textLength="37.036" lengthAdjust="spacingAndGlyphs">e (1/s)</text>
</g>
</g>
</g>
<g id="matplotlib.axis_6">
<g id="ytick_17">
<g id="line2d_60">
<g>
<use href="#m0535aeec29" x="61.6" y="344.9" style="stroke: #000000; stroke-width: 0.61864"/>
</g>
</g>
<g id="text_52">
<text x="49.067" y="349.507" font-size="11.947" textLength="6.859" lengthAdjust="spacingAndGlyphs">0</text>
</g>
</g>
<g id="ytick_18">
<g id="line2d_61">
<g>
<use href="#m0535aeec29" x="61.6" y="327.386111" style="stroke: #000000; stroke-width: 0.61864"/>
</g>
</g>
<g id="text_53">
<text x="34.265" y="331.993" font-size="11.947" textLength="21.75" lengthAdjust="spacingAndGlyphs">250</text>
</g>
</g>
<g id="ytick_19">
<g id="line2d_62">
<g>
<use href="#m0535aeec29" x="61.6" y="309.872222" style="stroke: #000000; stroke-width: 0.61864"/>
</g>
</g>
<g id="text_54">
<text x="34.398" y="314.479" font-size="11.947" textLength="21.613" lengthAdjust="spacingAndGlyphs">500</text>
</g>
</g>
<g id="ytick_20">
<g id="line2d_63">
<g>
<use href="#m0535aeec29" x="61.6" y="292.358333" style="stroke: #000000; stroke-width: 0.61864"/>
</g>
</g>
<g id="text_55">
<text x="34.324" y="296.965" font-size="11.947" textLength="21.689" lengthAdjust="spacingAndGlyphs">750</text>
</g>
</g>
<g id="ytick_21">
<g id="line2d_64">
<g>
<use href="#m0535aeec29" x="61.6" y="274.844444" style="stroke: #000000; stroke-width: 0.61864"/>
</g>
</g>
<g id="text_56">
<text x="26.965" y="279.451" font-size="11.947" textLength="28.985" lengthAdjust="spacingAndGlyphs">1000</text>
</g>
</g>
<g id="ytick_22">
<g id="line2d_65">
<g>
<use href="#m0535aeec29" x="61.6" y="257.330556" style="stroke: #000000; stroke-width: 0.61864"/>
</g>
</g>
<g id="text_57">
<text x="26.965" y="261.937" font-size="11.947" textLength="28.985" lengthAdjust="spacingAndGlyphs">1250</text>
</g>
</g>
<g id="ytick_23">
<g id="line2d_66">
<g>
<use href="#m0535aeec29" x="61.6" y="239.816667" style="stroke: #000000; stroke-width: 0.61864"/>
</g>
</g>
<g id="text_58">
<text x="26.965" y="244.424" font-size="11.947" textLength="28.985" lengthAdjust="spacingAndGlyphs">1500</text>
</g>
</g>
<g id="ytick_24">
<g id="line2d_67">
<g>
<use href="#m0535aeec29" x="61.6" y="222.302778" style="stroke: #000000; stroke-width: 0.61864"/>
</g>
</g>
<g id="text_59">
<text x="26.965" y="226.91" font-size="11.947" textLength="28.985" lengthAdjust="spacingAndGlyphs">1750</text>
</g>
</g>
<g id="text_60">
<g transform="translate(21.537 332.778) rotate(-90)"><text x="1.252" y="-0.875" font-size="11.947" font-style="italic" textLength="6.895" lengthAdjust="spacingAndGlyphs">η</text><text x="7.156" y="-0.875" font-size="11.947" textLength="24.399" lengthAdjust="spacingAndGlyphs">, Vis</text><text x="32.07" y="-0.875" font-size="11.947" textLength="13.261" lengthAdjust="spacingAndGlyphs">co</text><text x="45.769" y="-0.875" font-size="11.947" textLength="41.131" lengthAdjust="spacingAndGlyphs">sity (Pa</text><rect x="89.83" y="-5.221" width="1.195" height="1.439"/><text x="92.561" y="-0.875" font-size="11.947" textLength="10.055" lengthAdjust="spacingAndGlyphs">s)</text>
</g>
</g>
</g>
<g id="line2d_68">
<g clip-path="url(#p17b8dbfebd)">
<use href="#m254cbf3be5" x="67.988222" y="338.40585" style="fill: #0000ff; stroke: #0000ff; stroke-width: 0.7733; stroke-linejoin: miter"/>
<use href="#m254cbf3be5" x="74.376443" y="338.40585" style="fill: #0000ff; stroke: #0000ff; stroke-width: 0.7733; stroke-linejoin: miter"/>
<use href="#m254cbf3be5" x="87.152886" y="339.071378" style="fill: #0000ff; stroke: #0000ff; stroke-width: 0.7733; stroke-linejoin: miter"/>
<use href="#m254cbf3be5" x="112.705773" y="339.246517" style="fill: #0000ff; stroke: #0000ff; stroke-width: 0.7733; stroke-linejoin: miter"/>
<use href="#m254cbf3be5" x="141.45277" y="339.463689" style="fill: #0000ff; stroke: #0000ff; stroke-width: 0.7733; stroke-linejoin: miter"/>
<use href="#m254cbf3be5" x="261.231926" y="340.500511" style="fill: #0000ff; stroke: #0000ff; stroke-width: 0.7733; stroke-linejoin: miter"/>
</g>
</g>
<g id="line2d_69">
<g clip-path="url(#p17b8dbfebd)">
<use href="#m1ce8daf541" x="67.988222" y="323.182778" style="fill: #008000; stroke: #008000; stroke-width: 0.7733"/>
<use href="#m1ce8daf541" x="74.376443" y="326.685556" style="fill: #008000; stroke: #008000; stroke-width: 0.7733"/>
<use href="#m1ce8daf541" x="87.152886" y="330.678722" style="fill: #008000; stroke: #008000; stroke-width: 0.7733"/>
<use href="#m1ce8daf541" x="112.705773" y="333.691111" style="fill: #008000; stroke: #008000; stroke-width: 0.7733"/>
<use href="#m1ce8daf541" x="141.45277" y="335.162278" style="fill: #008000; stroke: #008000; stroke-width: 0.7733"/>
<use href="#m1ce8daf541" x="261.231926" y="338.174667" style="fill: #008000; stroke: #008000; stroke-width: 0.7733"/>
</g>
</g>
<g id="line2d_70">
<g clip-path="url(#p17b8dbfebd)">
<use href="#m0160b652dd" x="67.988222" y="215.297222" style="fill: #00bfbf; stroke: #00bfbf; stroke-width: 0.7733"/>
<use href="#m0160b652dd" x="74.376443" y="266.647944" style="fill: #00bfbf; stroke: #00bfbf; stroke-width: 0.7733"/>
<use href="#m0160b652dd" x="87.152886" y="294.179778" style="fill: #00bfbf; stroke: #00bfbf; stroke-width: 0.7733"/>
<use href="#m0160b652dd" x="112.705773" y="314.145611" style="fill: #00bfbf; stroke: #00bfbf; stroke-width: 0.7733"/>
<use href="#m0160b652dd" x="141.45277" y="320.030278" style="fill: #00bfbf; stroke: #00bfbf; stroke-width: 0.7733"/>
<use href="#m0160b652dd" x="261.231926" y="332.079833" style="fill: #00bfbf; stroke: #00bfbf; stroke-width: 0.7733"/>
</g>
</g>
<g id="line2d_71">
<path d="M 67.988222 338.166242 L 72.347102 338.514212 L 79.611903 338.841862 L 92.204225 339.160731 L 114.482947 339.472147 L 153.712872 339.770848 L 224.423601 340.060382 L 261.231926 340.159952 L 261.231926 340.159952 " clip-path="url(#p17b8dbfebd)" style="fill: none; stroke: #0000ff; stroke-width: 1.39194; stroke-linecap: square"/>
</g>
<g id="line2d_72">
<path d="M 67.988222 317.241807 L 68.956862 318.775168 L 70.409822 320.609828 L 71.862782 322.062624 L 73.800062 323.603558 L 75.737343 324.834558 L 78.158943 326.076164 L 81.064863 327.26645 L 84.455104 328.373987 L 88.329664 329.387138 L 93.172865 330.396445 L 98.984705 331.353442 L 105.765186 332.23559 L 113.998627 333.080691 L 124.169349 333.898112 L 136.76167 334.683674 L 152.744232 335.44924 L 173.085675 336.187941 L 198.754638 336.88757 L 232.172722 337.563214 L 261.231926 338.014993 L 261.231926 338.014993 " clip-path="url(#p17b8dbfebd)" style="fill: none; stroke: #008000; stroke-width: 1.39194; stroke-linecap: square"/>
</g>
<g id="line2d_73">
<path d="M 67.988222 216.743134 L 68.956862 228.309699 L 69.925502 237.58227 L 70.894142 245.211232 L 72.347102 254.455692 L 73.800062 261.82241 L 75.253023 267.85523 L 76.705983 272.902628 L 78.158943 277.199073 L 79.611903 280.908612 L 81.549183 285.141921 L 83.486464 288.739778 L 85.423744 291.842137 L 87.361024 294.549804 L 89.782624 297.491207 L 92.204225 300.038588 L 94.625825 302.270082 L 97.531745 304.611974 L 100.437666 306.657448 L 103.827906 308.742802 L 107.218146 310.566012 L 111.092707 312.390982 L 115.451588 314.178426 L 120.294788 315.900883 L 125.622309 317.540732 L 131.434149 319.088039 L 137.73031 320.538565 L 144.995111 321.981707 L 153.228552 323.382797 L 162.430633 324.719148 L 173.085675 326.032703 L 185.193676 327.292043 L 199.238958 328.517139 L 215.22152 329.679687 L 233.625682 330.790912 L 255.420085 331.874654 L 261.231926 332.129957 L 261.231926 332.129957 " clip-path="url(#p17b8dbfebd)" style="fill: none; stroke: #00bfbf; stroke-width: 1.39194; stroke-linecap: square"/>
</g>
<g id="patch_13">
<path d="M 61.6 344.9 L 61.6 218.8 " style="fill: none; stroke: #000000; stroke-width: 0.61864; stroke-linejoin: miter; stroke-linecap: square"/>
</g>
<g id="patch_14">
<path d="M 267.7 344.9 L 267.7 218.8 " style="fill: none; stroke: #000000; stroke-width: 0.61864; stroke-linejoin: miter; stroke-linecap: square"/>
</g>
<g id="patch_15">
<path d="M 61.6 344.9 L 267.7 344.9 " style="fill: none; stroke: #000000; stroke-width: 0.61864; stroke-linejoin: miter; stroke-linecap: square"/>
</g>
<g id="patch_16">
<path d="M 61.6 218.8 L 267.7 218.8 " style="fill: none; stroke: #000000; stroke-width: 0.61864; stroke-linejoin: miter; stroke-linecap: square"/>
</g>
<g id="text_61">
<g transform="translate(173.394 303.767)"><text x="0.602" y="-0.602" font-size="15.93" font-style="italic" textLength="9.193" lengthAdjust="spacingAndGlyphs">η</text><text x="13.471" y="-0.602" font-size="15.93" transform="matrix(1 0 0 0.85 0 -0.473)" textLength="11.639" lengthAdjust="spacingAndGlyphs">=</text><text x="28.756" y="-0.602" font-size="15.93" font-style="italic" textLength="10.701" lengthAdjust="spacingAndGlyphs">K</text><text x="39.203" y="-0.602" font-size="15.93" font-style="italic" textLength="8.838" lengthAdjust="spacingAndGlyphs">γ</text><text x="48.536" y="-6.344" font-size="11.151" font-style="italic" textLength="6.447" lengthAdjust="spacingAndGlyphs">n</text><rect x="44.325" y="-13.682" width="1.39" height="1.76"/><text x="57.761" y="-6.344" font-size="11.151" textLength="8.147" lengthAdjust="spacingAndGlyphs">−</text><text x="68.896" y="-6.344" font-size="11.151" textLength="6.091" lengthAdjust="spacingAndGlyphs">1</text>
</g>
</g>
<g id="text_62">
<text x="49.451" y="204.469" font-size="9.558" textLength="227.395" lengthAdjust="spacingAndGlyphs">Radiation Effects on Viscosity. Recycled material.</text>
<text x="150.967" y="214.86" font-size="9.558" textLength="30.315" lengthAdjust="spacingAndGlyphs">Argon.</text>
</g>
<g id="legend_3">
<g id="line2d_74">
<path d="M 88.517 230.954826 L 97.755 230.954826 L 106.993 230.954826 " style="fill: none; stroke: #0000ff; stroke-width: 1.39194; stroke-linecap: square"/>
</g>
<g id="text_63">
<text x="114.265" y="234.203" font-size="9.558" textLength="29.671" lengthAdjust="spacingAndGlyphs">0 kGy,</text><text x="158.562" y="234.203" font-size="9.558" textLength="49.264" lengthAdjust="spacingAndGlyphs">K=150.29,</text><text x="225.291" y="234.203" font-size="9.558" textLength="34.024" lengthAdjust="spacingAndGlyphs">n=0.90</text>
</g>
<g id="line2d_75">
<path d="M 88.517 244.575539 L 97.755 244.575539 L 106.993 244.575539 " style="fill: none; stroke: #008000; stroke-width: 1.39194; stroke-linecap: square"/>
</g>
<g id="text_64">
<text x="114.312" y="247.823" font-size="9.558" textLength="41.482" lengthAdjust="spacingAndGlyphs">100 kGy,</text><text x="158.571" y="247.823" font-size="9.558" textLength="55.167" lengthAdjust="spacingAndGlyphs">K=1387.40,</text><text x="225.305" y="247.823" font-size="9.558" textLength="33.945" lengthAdjust="spacingAndGlyphs">n=0.67</text>
</g>
<g id="line2d_76">
<path d="M 88.517 258.196252 L 97.755 258.196252 L 106.993 258.196252 " style="fill: none; stroke: #00bfbf; stroke-width: 1.39194; stroke-linecap: square"/>
</g>
<g id="text_65">
<text x="114.357" y="261.444" font-size="9.558" textLength="41.435" lengthAdjust="spacingAndGlyphs">500 kGy,</text><text x="158.573" y="261.444" font-size="9.558" textLength="64.015" lengthAdjust="spacingAndGlyphs">K=34,464.31,</text><text x="225.31" y="261.444" font-size="9.558" textLength="33.936" lengthAdjust="spacingAndGlyphs">n=0.33</text>
</g>
</g>
</g>
<g id="axes_4">
<g id="patch_17">
<path d="M 332.5 344.9 L 538.6 344.9 L 538.6 218.8 L 332.5 218.8 z
" style="fill: #ffffff"/>
</g>
<g id="matplotlib.axis_7">
<g id="xtick_20">
<g id="line2d_77">
<g>
<use href="#maab8fc0e9d" x="343.347368" y="344.9" style="stroke: #000000; stroke-width: 0.61864"/>
</g>
</g>
<g id="text_66">
<text x="334.434" y="359.127" font-size="11.947" textLength="17.896" lengthAdjust="spacingAndGlyphs">1.8</text>
</g>
</g>
<g id="xtick_21">
<g id="line2d_78">
<g>
<use href="#maab8fc0e9d" x="375.889474" y="344.9" style="stroke: #000000; stroke-width: 0.61864"/>
</g>
</g>
<g id="text_67">
<text x="366.895" y="359.127" font-size="11.947" textLength="17.813" lengthAdjust="spacingAndGlyphs">2.1</text>
</g>
</g>
<g id="xtick_22">
<g id="line2d_79">
<g>
<use href="#maab8fc0e9d" x="408.431579" y="344.9" style="stroke: #000000; stroke-width: 0.61864"/>
</g>
</g>
<g id="text_68">
<text x="399.431" y="359.127" font-size="11.947" textLength="17.972" lengthAdjust="spacingAndGlyphs">2.4</text>
</g>
</g>
<g id="xtick_23">
<g id="line2d_80">
<g>
<use href="#maab8fc0e9d" x="440.973684" y="344.9" style="stroke: #000000; stroke-width: 0.61864"/>
</g>
</g>
<g id="text_69">
<text x="431.977" y="359.127" font-size="11.947" textLength="17.875" lengthAdjust="spacingAndGlyphs">2.7</text>
</g>
</g>
<g id="xtick_24">
<g id="line2d_81">
<g>
<use href="#maab8fc0e9d" x="473.515789" y="344.9" style="stroke: #000000; stroke-width: 0.61864"/>
</g>
</g>
<g id="text_70">
<text x="464.648" y="359.127" font-size="11.947" textLength="17.848" lengthAdjust="spacingAndGlyphs">3.0</text>
</g>
</g>
<g id="xtick_25">
<g id="line2d_82">
<g>
<use href="#maab8fc0e9d" x="506.057895" y="344.9" style="stroke: #000000; stroke-width: 0.61864"/>
</g>
</g>
<g id="text_71">
<text x="497.194" y="359.127" font-size="11.947" textLength="17.731" lengthAdjust="spacingAndGlyphs">3.3</text>
</g>
</g>
<g id="xtick_26">
<g id="line2d_83">
<g>
<use href="#maab8fc0e9d" x="538.6" y="344.9" style="stroke: #000000; stroke-width: 0.61864"/>
</g>
</g>
<g id="text_72">
<text x="529.729" y="359.127" font-size="11.947" textLength="17.979" lengthAdjust="spacingAndGlyphs">3.6</text>
</g>
</g>
<g id="text_73">
<g transform="translate(381.032 375.44)"><text x="0.185" y="-0.581" font-size="11.947" textLength="33.747" lengthAdjust="spacingAndGlyphs">Shear</text><text x="34.242" y="-0.581" font-size="11.947" textLength="22.58" lengthAdjust="spacingAndGlyphs"> Rat</text><text x="57.307" y="-0.581" font-size="11.947" textLength="24.658" lengthAdjust="spacingAndGlyphs">e, lo</text><text x="82.278" y="-0.581" font-size="11.947" textLength="14.625" lengthAdjust="spacingAndGlyphs">g (</text><text x="97.892" y="-0.581" font-size="11.947" font-style="italic" textLength="6.628" lengthAdjust="spacingAndGlyphs">γ</text><text x="105.458" y="-0.581" font-size="11.947" textLength="3.343" lengthAdjust="spacingAndGlyphs">)</text><rect x="101.476" y="-10.288" width="1.042" height="1.32"/>
</g>
</g>
</g>
<g id="matplotlib.axis_8">
<g id="ytick_25">
<g id="line2d_84">
<g>
<use href="#m0535aeec29" x="332.5" y="334.944737" style="stroke: #000000; stroke-width: 0.61864"/>
</g>
</g>
<g id="text_74">
<text x="301.57" y="339.552" font-size="11.947" textLength="25.044" lengthAdjust="spacingAndGlyphs">1.75</text>
</g>
</g>
<g id="ytick_26">
<g id="line2d_85">
<g>
<use href="#m0535aeec29" x="332.5" y="318.352632" style="stroke: #000000; stroke-width: 0.61864"/>
</g>
</g>
<g id="text_75">
<text x="301.477" y="322.96" font-size="11.947" textLength="25.376" lengthAdjust="spacingAndGlyphs">2.00</text>
</g>
</g>
<g id="ytick_27">
<g id="line2d_86">
<g>
<use href="#m0535aeec29" x="332.5" y="301.760526" style="stroke: #000000; stroke-width: 0.61864"/>
</g>
</g>
<g id="text_76">
<text x="301.483" y="306.367" font-size="11.947" textLength="25.132" lengthAdjust="spacingAndGlyphs">2.25</text>
</g>
</g>
<g id="ytick_28">
<g id="line2d_87">
<g>
<use href="#m0535aeec29" x="332.5" y="285.168421" style="stroke: #000000; stroke-width: 0.61864"/>
</g>
</g>
<g id="text_77">
<text x="301.477" y="289.775" font-size="11.947" textLength="25.376" lengthAdjust="spacingAndGlyphs">2.50</text>
</g>
</g>
<g id="ytick_29">
<g id="line2d_88">
<g>
<use href="#m0535aeec29" x="332.5" y="268.576316" style="stroke: #000000; stroke-width: 0.61864"/>
</g>
</g>
<g id="text_78">
<text x="301.483" y="273.183" font-size="11.947" textLength="25.132" lengthAdjust="spacingAndGlyphs">2.75</text>
</g>
</g>
<g id="ytick_30">
<g id="line2d_89">
<g>
<use href="#m0535aeec29" x="332.5" y="251.984211" style="stroke: #000000; stroke-width: 0.61864"/>
</g>
</g>
<g id="text_79">
<text x="301.61" y="256.591" font-size="11.947" textLength="25.24" lengthAdjust="spacingAndGlyphs">3.00</text>
</g>
</g>
<g id="ytick_31">
<g id="line2d_90">
<g>
<use href="#m0535aeec29" x="332.5" y="235.392105" style="stroke: #000000; stroke-width: 0.61864"/>
</g>
</g>
<g id="text_80">
<text x="301.615" y="239.999" font-size="11.947" textLength="24.997" lengthAdjust="spacingAndGlyphs">3.25</text>
</g>
</g>
<g id="ytick_32">
<g id="line2d_91">
<g>
<use href="#m0535aeec29" x="332.5" y="218.8" style="stroke: #000000; stroke-width: 0.61864"/>
</g>
</g>
<g id="text_81">
<text x="301.61" y="223.407" font-size="11.947" textLength="25.24" lengthAdjust="spacingAndGlyphs">3.50</text>
</g>
</g>
<g id="text_82">
<g transform="translate(296.131 329.704) rotate(-90)"><text x="0.055" y="-0.875" font-size="11.947" textLength="22.884" lengthAdjust="spacingAndGlyphs">Visc</text><text x="23.78" y="-0.875" font-size="11.947" textLength="6.791" lengthAdjust="spacingAndGlyphs">o</text><text x="30.967" y="-0.875" font-size="11.947" textLength="38.022" lengthAdjust="spacingAndGlyphs">sity, lo</text><text x="69.336" y="-0.875" font-size="11.947" textLength="14.625" lengthAdjust="spacingAndGlyphs">g (</text><text x="85.261" y="-0.875" font-size="11.947" font-style="italic" textLength="6.895" lengthAdjust="spacingAndGlyphs">η</text><text x="93.005" y="-0.875" font-size="11.947" textLength="3.343" lengthAdjust="spacingAndGlyphs">)</text>
</g>
</g>
</g>
<g id="line2d_92">
<g clip-path="url(#p2fd22ec531)">
<use href="#m254cbf3be5" x="354.529919" y="320.537498" style="fill: #0000ff; stroke: #0000ff; stroke-width: 0.7733; stroke-linejoin: miter"/>
<use href="#m254cbf3be5" x="387.183752" y="320.537498" style="fill: #0000ff; stroke: #0000ff; stroke-width: 0.7733; stroke-linejoin: miter"/>
<use href="#m254cbf3be5" x="419.837584" y="323.65392" style="fill: #0000ff; stroke: #0000ff; stroke-width: 0.7733; stroke-linejoin: miter"/>
<use href="#m254cbf3be5" x="452.491417" y="324.533288" style="fill: #0000ff; stroke: #0000ff; stroke-width: 0.7733; stroke-linejoin: miter"/>
<use href="#m254cbf3be5" x="473.515789" y="325.662335" style="fill: #0000ff; stroke: #0000ff; stroke-width: 0.7733; stroke-linejoin: miter"/>
<use href="#m254cbf3be5" x="516.681808" y="331.761731" style="fill: #0000ff; stroke: #0000ff; stroke-width: 0.7733; stroke-linejoin: miter"/>
</g>
</g>
<g id="line2d_93">
<g clip-path="url(#p2fd22ec531)">
<use href="#m1ce8daf541" x="354.529919" y="278.394861" style="fill: #008000; stroke: #008000; stroke-width: 0.7733"/>
<use href="#m1ce8daf541" x="387.183752" y="287.465907" style="fill: #008000; stroke: #008000; stroke-width: 0.7733"/>
<use href="#m1ce8daf541" x="419.837584" y="294.851014" style="fill: #008000; stroke: #008000; stroke-width: 0.7733"/>
<use href="#m1ce8daf541" x="452.491417" y="302.72098" style="fill: #008000; stroke: #008000; stroke-width: 0.7733"/>
<use href="#m1ce8daf541" x="473.515789" y="307.642892" style="fill: #008000; stroke: #008000; stroke-width: 0.7733"/>
<use href="#m1ce8daf541" x="516.681808" y="319.141564" style="fill: #008000; stroke: #008000; stroke-width: 0.7733"/>
</g>
</g>
<g id="line2d_94">
<g clip-path="url(#p2fd22ec531)">
<use href="#m0160b652dd" x="354.529919" y="232.411705" style="fill: #00bfbf; stroke: #00bfbf; stroke-width: 0.7733"/>
<use href="#m0160b652dd" x="387.183752" y="247.140328" style="fill: #00bfbf; stroke: #00bfbf; stroke-width: 0.7733"/>
<use href="#m0160b652dd" x="419.837584" y="265.255946" style="fill: #00bfbf; stroke: #00bfbf; stroke-width: 0.7733"/>
<use href="#m0160b652dd" x="452.491417" y="275.910923" style="fill: #00bfbf; stroke: #00bfbf; stroke-width: 0.7733"/>
<use href="#m0160b652dd" x="473.515789" y="285.464136" style="fill: #00bfbf; stroke: #00bfbf; stroke-width: 0.7733"/>
<use href="#m0160b652dd" x="516.681808" y="303.228151" style="fill: #00bfbf; stroke: #00bfbf; stroke-width: 0.7733"/>
</g>
</g>
<g id="line2d_95">
<path d="M 354.529919 319.493179 L 516.681808 329.612684 " clip-path="url(#p2fd22ec531)" style="fill: none; stroke: #0000ff; stroke-width: 1.39194; stroke-linecap: square"/>
</g>
<g id="line2d_96">
<path d="M 354.529919 278.771751 L 516.681808 318.852929 " clip-path="url(#p2fd22ec531)" style="fill: none; stroke: #008000; stroke-width: 1.39194; stroke-linecap: square"/>
</g>
<g id="line2d_97">
<path d="M 354.529919 233.025776 L 516.681808 306.044952 " clip-path="url(#p2fd22ec531)" style="fill: none; stroke: #00bfbf; stroke-width: 1.39194; stroke-linecap: square"/>
</g>
<g id="patch_18">
<path d="M 332.5 344.9 L 332.5 218.8 " style="fill: none; stroke: #000000; stroke-width: 0.61864; stroke-linejoin: miter; stroke-linecap: square"/>
</g>
<g id="patch_19">
<path d="M 538.6 344.9 L 538.6 218.8 " style="fill: none; stroke: #000000; stroke-width: 0.61864; stroke-linejoin: miter; stroke-linecap: square"/>
</g>
<g id="patch_20">
<path d="M 332.5 344.9 L 538.6 344.9 " style="fill: none; stroke: #000000; stroke-width: 0.61864; stroke-linejoin: miter; stroke-linecap: square"/>
</g>
<g id="patch_21">
<path d="M 332.5 218.8 L 538.6 218.8 " style="fill: none; stroke: #000000; stroke-width: 0.61864; stroke-linejoin: miter; stroke-linecap: square"/>
</g>
<g id="text_83">
<text x="320.351" y="204.469" font-size="9.558" textLength="227.395" lengthAdjust="spacingAndGlyphs">Radiation Effects on Viscosity. Recycled material.</text>
<text x="390.518" y="214.86" font-size="9.558" textLength="93.077" lengthAdjust="spacingAndGlyphs">Log-Log Plot. Argon.</text>
</g>
<g id="legend_4">
<g id="line2d_98">
<path d="M 466.139 230.954826 L 475.377 230.954826 L 484.615 230.954826 " style="fill: none; stroke: #0000ff; stroke-width: 1.39194; stroke-linecap: square"/>
</g>
<g id="text_84">
<text x="491.902" y="234.203" font-size="9.558" textLength="26.504" lengthAdjust="spacingAndGlyphs">0 kGy</text>
</g>
<g id="line2d_99">
<path d="M 466.139 244.575539 L 475.377 244.575539 L 484.615 244.575539 " style="fill: none; stroke: #008000; stroke-width: 1.39194; stroke-linecap: square"/>
</g>
<g id="text_85">
<text x="491.956" y="247.823" font-size="9.558" textLength="38.209" lengthAdjust="spacingAndGlyphs">100 kGy</text>
</g>
<g id="line2d_100">
<path d="M 466.139 258.196252 L 475.377 258.196252 L 484.615 258.196252 " style="fill: none; stroke: #00bfbf; stroke-width: 1.39194; stroke-linecap: square"/>
</g>
<g id="text_86">
<text x="491.991" y="261.444" font-size="9.558" textLength="38.174" lengthAdjust="spacingAndGlyphs">500 kGy</text>
</g>
</g>
</g>
</g>
<defs>
<clipPath id="p5743c4f29c">
<rect x="61.6" y="28.5" width="206.1" height="126.1"/>
</clipPath>
<clipPath id="pca7f2a2bee">
<rect x="332.5" y="28.5" width="206.1" height="126.1"/>
</clipPath>
<clipPath id="p17b8dbfebd">
<rect x="61.6" y="218.8" width="206.1" height="126.1"/>
</clipPath>
<clipPath id="p2fd22ec531">
<rect x="332.5" y="218.8" width="206.1" height="126.1"/>
</clipPath>
</defs>
</svg>

</body></html>
